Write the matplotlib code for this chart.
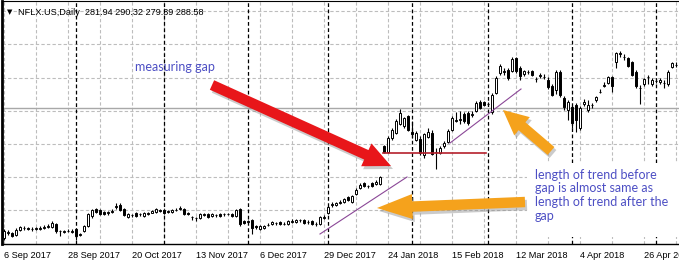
import matplotlib.pyplot as plt
import matplotlib.patches as mpatches
import numpy as np
import pandas as pd

# NFLX.US daily bars, 6 Sep 2017 .. 8 May 2018
opens = [170.8, 175.3, 175.3, 173.5, 178.0, 179.8, 179.8, 178.9, 178.9, 178.9,
         179.8, 180.7, 180.7, 183.4, 177.1, 176.2, 177.1, 176.2, 178.9, 173.5,
         177.1, 181.6, 190.6, 196.9, 196.0, 194.2, 193.3, 194.2, 198.7, 200.5,
         196.9, 189.7, 191.5, 193.3, 192.4, 190.6, 192.4, 193.3, 194.2, 196.0,
         196.0, 194.2, 194.2, 196.0, 196.9, 196.9, 193.3, 189.7, 188.8, 188.8,
         191.5, 192.4, 190.6, 191.5, 192.4, 192.4, 192.4, 192.4, 190.6, 196.9,
         186.1, 185.2, 187.0, 181.6, 178.9, 179.8, 182.5, 183.4, 184.3, 185.2,
         183.4, 183.4, 185.2, 185.2, 187.0, 187.0, 185.2, 186.1, 183.4, 183.4,
         188.8, 193.3, 200.5, 200.5, 202.3, 203.2, 207.7, 203.2, 210.4, 215.8,
         220.3, 217.6, 220.3, 219.4, 219.4, 253.6, 248.2, 260.8, 265.3, 273.4,
         271.6, 280.6, 266.2, 259.0, 259.9, 245.5, 261.7, 265.3, 248.2, 247.3,
         253.6, 257.2, 268.0, 276.1, 277.0, 282.4, 283.3, 281.5, 285.1, 293.2,
         293.2, 291.4, 284.2, 301.3, 319.3, 320.2, 322.0, 321.1, 332.8, 323.8,
         318.4, 320.2, 321.1, 313.9, 316.6, 315.7, 313.0, 307.6, 304.0, 320.2,
         296.8, 286.0, 288.7, 290.5, 269.8, 291.4, 286.0, 290.5, 295.0, 302.2,
         307.6, 310.3, 315.7, 329.2, 336.4, 333.7, 332.8, 329.2, 320.2, 305.8,
         309.4, 315.7, 309.4, 312.1, 311.2, 310.3, 309.4, 324.7, 326.5]
highs = [178.9, 178.0, 176.2, 179.8, 181.6, 181.6, 180.7, 180.7, 180.7, 181.6,
         182.5, 183.4, 186.1, 184.3, 178.0, 178.0, 178.9, 178.9, 179.8, 175.3,
         182.5, 193.3, 196.9, 197.8, 196.9, 195.1, 195.1, 196.9, 202.3, 202.3,
         197.8, 193.3, 192.4, 194.2, 193.3, 194.2, 194.2, 196.0, 197.8, 196.9,
         196.9, 196.0, 196.9, 197.8, 199.6, 197.8, 194.2, 190.6, 189.7, 193.3,
         193.3, 193.3, 193.3, 192.4, 193.3, 193.3, 193.3, 193.3, 196.9, 197.8,
         187.0, 187.0, 187.9, 182.5, 182.5, 182.5, 184.3, 186.1, 185.2, 186.1,
         185.2, 187.0, 187.9, 187.9, 187.9, 187.9, 187.0, 187.0, 185.2, 190.6,
         191.5, 199.6, 203.2, 203.2, 205.0, 206.8, 208.6, 209.5, 215.8, 220.3,
         221.2, 218.5, 221.2, 223.0, 226.6, 254.5, 262.6, 269.8, 277.9, 286.9,
         279.7, 281.5, 276.1, 267.1, 262.6, 265.3, 269.8, 268.0, 251.8, 253.6,
         258.1, 268.9, 280.6, 284.2, 285.1, 284.2, 285.1, 285.1, 294.1, 295.0,
         294.1, 293.2, 301.3, 316.6, 327.4, 323.8, 323.8, 333.7, 333.7, 325.6,
         322.0, 322.0, 322.0, 315.7, 319.3, 318.4, 315.7, 309.4, 322.0, 322.0,
         298.6, 295.0, 290.5, 292.3, 289.6, 295.9, 295.0, 292.3, 298.6, 304.9,
         311.2, 316.6, 316.6, 338.2, 339.1, 336.4, 333.7, 330.1, 322.0, 308.5,
         314.8, 317.5, 314.8, 314.8, 314.8, 313.0, 322.0, 329.2, 329.2]
lows = [169.0, 173.5, 171.7, 172.6, 177.1, 178.0, 178.0, 177.1, 178.0, 178.0,
        178.9, 179.8, 179.8, 175.3, 172.6, 175.3, 176.2, 175.3, 169.0, 172.6,
        176.2, 180.7, 188.8, 193.3, 191.5, 191.5, 191.5, 193.3, 196.9, 195.1,
        190.6, 188.8, 189.7, 189.7, 190.6, 189.7, 191.5, 193.3, 193.3, 194.2,
        192.4, 193.3, 193.3, 195.1, 196.0, 191.5, 191.5, 187.0, 186.1, 187.9,
        190.6, 188.8, 189.7, 189.7, 189.7, 190.6, 191.5, 189.7, 189.7, 181.6,
        183.4, 184.3, 174.4, 178.9, 178.0, 178.9, 181.6, 182.5, 182.5, 182.5,
        182.5, 182.5, 184.3, 184.3, 185.2, 183.4, 183.4, 182.5, 181.6, 182.5,
        187.9, 192.4, 198.7, 199.6, 201.4, 202.3, 204.1, 202.3, 209.5, 214.9,
        216.7, 215.8, 216.7, 218.5, 218.5, 247.3, 247.3, 259.0, 264.4, 272.5,
        269.8, 267.1, 260.8, 258.1, 245.5, 242.8, 260.8, 245.5, 232.9, 246.4,
        251.8, 256.3, 267.1, 275.2, 273.4, 274.3, 272.5, 279.7, 284.2, 286.9,
        289.6, 289.6, 282.4, 300.4, 317.5, 317.5, 313.0, 320.2, 319.3, 313.0,
        316.6, 318.4, 316.6, 311.2, 314.8, 313.9, 304.9, 298.6, 300.4, 297.7,
        286.0, 277.0, 269.8, 266.2, 268.0, 289.6, 284.2, 287.8, 293.2, 301.3,
        306.7, 309.4, 302.2, 323.8, 333.7, 331.0, 324.7, 316.6, 305.8, 291.4,
        307.6, 309.4, 307.6, 310.3, 309.4, 305.8, 307.6, 323.8, 324.7]
closes = [177.1, 176.2, 172.6, 178.0, 180.7, 179.4, 178.9, 179.1, 179.8, 179.8,
          180.7, 181.6, 184.3, 177.1, 177.3, 177.1, 176.9, 177.1, 172.6, 174.4,
          181.6, 192.4, 196.0, 194.2, 192.4, 192.4, 194.2, 195.1, 199.6, 196.0,
          191.5, 192.4, 191.7, 190.6, 192.6, 193.3, 193.3, 195.1, 196.9, 195.1,
          193.3, 195.1, 196.0, 196.2, 197.8, 192.4, 192.4, 189.9, 189.0, 192.4,
          192.4, 189.7, 192.4, 191.3, 190.6, 192.6, 192.2, 190.6, 196.0, 183.4,
          184.3, 186.1, 179.8, 180.7, 181.6, 181.6, 182.7, 185.2, 184.1, 183.4,
          183.6, 186.1, 186.1, 187.0, 186.8, 184.3, 185.4, 183.4, 183.6, 189.7,
          189.7, 198.7, 201.4, 202.3, 203.2, 205.9, 205.0, 208.6, 214.0, 218.5,
          217.6, 217.8, 217.6, 221.2, 225.7, 248.2, 260.8, 268.0, 276.1, 283.3,
          278.8, 268.0, 264.4, 265.3, 247.3, 264.4, 266.2, 246.4, 248.0, 251.8,
          256.3, 267.1, 278.8, 277.0, 277.9, 276.1, 274.3, 282.4, 292.3, 287.8,
          290.5, 291.2, 299.5, 314.8, 325.6, 321.1, 314.8, 331.9, 321.1, 316.6,
          321.1, 320.0, 317.5, 314.1, 317.5, 315.5, 306.7, 299.5, 320.2, 299.5,
          288.7, 293.2, 274.3, 277.0, 287.8, 293.2, 290.5, 290.3, 297.7, 302.4,
          308.5, 315.7, 307.6, 337.3, 337.3, 333.5, 325.6, 317.5, 307.6, 305.6,
          313.9, 315.5, 313.0, 312.3, 313.0, 310.1, 320.2, 328.3, 326.7]

start_day = '2017-09-06'
holidays = ['2017-11-23', '2017-12-25', '2018-01-01', '2018-01-15',
            '2018-02-19', '2018-03-30']

title = 'NFLX.US,Daily  281.94 290.32 279.39 288.58'
bid_line = 287.5

# objects drawn on the chart (bar index, price)
trend1_x = [79, 100.75]
trend1_y = [174.4, 225.7]
trend2_x = [111.5, 129.25]
trend2_y = [256.3, 304.9]
gap_line_x = [94.75, 120.5]
gap_line_y = [247.3, 247.3]

note1 = 'measuring gap'
note2 = 'length of trend before\ngap is almost same as\nlength of trend after the\ngap'

W, H = 679, 266


def fpx(px, py):
    # screen pixel (from top left) -> figure fraction
    return (px / W, 1 - py / H)


fig = plt.figure(figsize=(W / 100, H / 100), dpi=100)
fig.patch.set_facecolor('white')
ax = fig.add_axes([2 / W, 22 / H, 677 / W, 243 / H])

n = len(closes)
x = np.arange(n)
days = pd.bdate_range(start_day, periods=n, freq='C', holidays=holidays)

o = np.array(opens)
c = np.array(closes)
up = c >= o
ax.vlines(x, lows, highs, color='black', lw=0.8, zorder=3)
ax.bar(x, np.abs(c - o), bottom=np.minimum(o, c), width=0.62,
       color=np.where(up, 'white', 'black'), edgecolor='black', lw=0.7, zorder=4)

ax.set_xlim(-0.5, n + 0.25 - 0.5)
ax.set_ylim(165.4, 384.1)

# grid
ax.set_xticks(x[::16])
ax.set_xticklabels([f'{d.day} {d:%b %Y}' for d in days[::16]],
                   fontsize=6.6, family='Liberation Sans')
for lab in ax.get_xticklabels():
    lab.set_ha('left')
ax.set_xticks(x[::8], minor=True)
ax.set_yticks(np.arange(196.0, 384, 29.8))
ax.set_yticklabels([])
ax.tick_params(which='both', length=0, pad=4)
ax.tick_params(axis='x', pad=5)
ax.grid(which='both', color='#bdbdbd', ls=(0, (3, 2)), lw=0.8, zorder=0)
ax.set_axisbelow(True)

# month separators
for i in range(1, n):
    if days[i].month != days[i - 1].month:
        ax.axvline(i, color='black', ls=(0, (3, 2)), lw=0.9, zorder=1)

ax.axhline(bid_line, color='#a8a8a8', lw=1.0, zorder=1)

for s in ['right']:
    ax.spines[s].set_visible(False)
ax.spines['left'].set_linewidth(2)
ax.spines['top'].set_linewidth(0.8)
ax.spines['bottom'].set_linewidth(1)

ax.plot(trend1_x, trend1_y, color='#8b4797', lw=0.8, zorder=5)
ax.plot(trend2_x, trend2_y, color='#8b4797', lw=0.8, zorder=5)
ax.plot(gap_line_x, gap_line_y, color='#b5202c', lw=1.2, zorder=5)

# title
fig.text(*fpx(7, 12.5), '\u25bc', fontsize=5, va='center', ha='left', family='DejaVu Sans')
fig.text(*fpx(18, 12.5), title, fontsize=6.6, va='center', ha='left',
         family='Liberation Sans', color='black')

# white note box
box = mpatches.Rectangle(fpx(527, 237), 152 / W, 74 / H, transform=fig.transFigure,
                         facecolor='white', edgecolor='none', zorder=5)
fig.add_artist(box)


def arrow(p0, p1, color, hl, hw):
    style = f'simple,head_length={hl},head_width={hw},tail_width=1'
    sh = mpatches.FancyArrowPatch(fpx(p0[0] + 2, p0[1] + 3), fpx(p1[0] + 2, p1[1] + 3),
                                  transform=fig.transFigure, arrowstyle=style,
                                  mutation_scale=7.5, color='#8c8c8c', alpha=0.45,
                                  lw=0, shrinkA=0, shrinkB=0, zorder=6)
    ar = mpatches.FancyArrowPatch(fpx(*p0), fpx(*p1), transform=fig.transFigure,
                                  arrowstyle=style, mutation_scale=7.5, color=color,
                                  lw=0, shrinkA=0, shrinkB=0, zorder=7)
    fig.add_artist(sh)
    fig.add_artist(ar)


arrow((212, 85), (391, 166), '#e8161a', 2.6, 2.4)
arrow((551, 151), (503, 110), '#f5a21c', 2.4, 2.3)
arrow((525, 202), (377, 208), '#f5a21c', 3.4, 2.4)

fig.text(*fpx(135, 67), note1, fontsize=9, family='Lato', color='#4d4fc4',
         va='center', ha='left', zorder=8)
fig.text(*fpx(535, 169), note2, fontsize=9, family='Lato', color='#4d4fc4',
         va='top', ha='left', linespacing=1.15, zorder=8)

fig.savefig('out.png', dpi=100)
